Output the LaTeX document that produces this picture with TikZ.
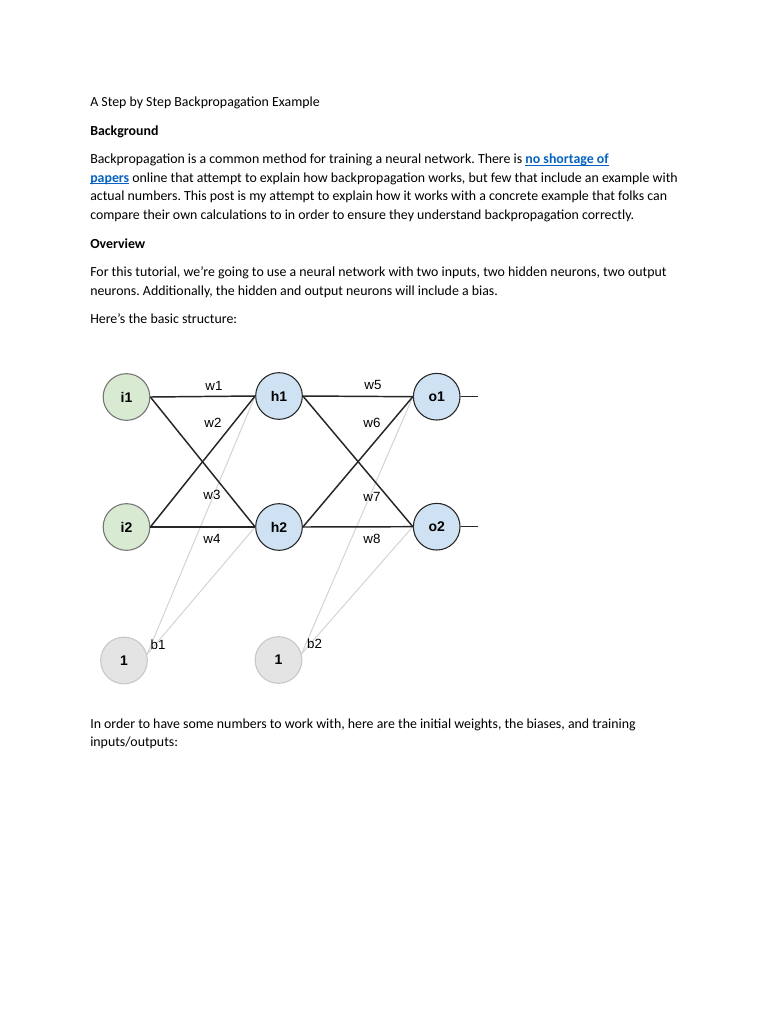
\documentclass[tikz,border=0pt]{standalone}
\usepackage{fontspec}
\setmainfont{Carlito}
\newfontfamily\diagfont{Liberation Sans}
\definecolor{linkblue}{RGB}{5,99,193}
\definecolor{ingreen}{HTML}{D9EAD3}
\definecolor{hidblue}{HTML}{CFE2F3}
\definecolor{biasgray}{HTML}{E4E4E4}

\tikzset{
  txt/.style={anchor=base west, inner sep=0pt},
  neuron/.style={circle, minimum size=35pt, inner sep=0pt, line width=0.8pt,
    font=\diagfont\bfseries\fontsize{10.5}{12}\selectfont},
  inneuron/.style={neuron, fill=ingreen, draw=black!55},
  hidneuron/.style={neuron, fill=hidblue, draw=black!85},
  biasneuron/.style={neuron, fill=biasgray, draw=black!22},
  wire/.style={line width=1.1pt, black!85},
  biaswire/.style={line width=0.75pt, black!17},
  wlabel/.style={font=\diagfont\fontsize{10}{12}\selectfont, inner sep=0pt},
}
% hyperlink look: bold blue, rule just under the baseline
\newsavebox{\linkbox}
\newcommand{\linktext}[1]{\sbox{\linkbox}{\color{linkblue}\bfseries #1}%
  {\color{linkblue}\rlap{\rule[-1.6pt]{\wd\linkbox}{0.6pt}}}\usebox{\linkbox}}

\begin{document}
\frenchspacing
\begin{tikzpicture}[x=0.75pt, y=-0.75pt, font=\fontsize{10.4}{13}\selectfont]
\fill[white] (0,0) rectangle (768,1024);
\useasboundingbox (0,0) rectangle (768,1024);
% page text, one node per printed line
\def\L{90}
\node[txt] (title) at (\L,106.5) {A Step by Step Backpropagation Example};
\node[txt] (bghead) at (\L,135) {\bfseries Background};
\node[txt] (bg1) at (\L,163.5) {Backpropagation is a common method for training a neural network. There is \linktext{no shortage of}};
\node[txt] (bg2) at (\L,182) {\linktext{papers} online that attempt to explain how backpropagation works, but few that include an example with};
\node[txt] (bg3) at (\L,200.5) {actual numbers. This post is my attempt to explain how it works with a concrete example that folks can};
\node[txt] (bg4) at (\L,219.5) {compare their own calculations to in order to ensure they understand backpropagation correctly.};
\node[txt] (ovhead) at (\L,248) {\bfseries Overview};
\node[txt] (ov1) at (\L,276.7) {For this tutorial, we’re going to use a neural network with two inputs, two hidden neurons, two output};
\node[txt] (ov2) at (\L,295.3) {neurons. Additionally, the hidden and output neurons will include a bias.};
\node[txt] (ov3) at (\L,323.5) {Here’s the basic structure:};
\node[txt] (end1) at (\L,728) {In order to have some numbers to work with, here are the initial weights, the biases, and training};
\node[txt] (end2) at (\L,746.7) {inputs/outputs:};

% network: inputs, hidden, outputs, biases
\node[inneuron] (i1) at (126.5,397) {i1};
\node[inneuron] (i2) at (126.5,527) {i2};
\node[hidneuron] (h1) at (279,396) {h1};
\node[hidneuron] (h2) at (279,527) {h2};
\node[hidneuron] (o1) at (436.7,396.7) {o1};
\node[hidneuron] (o2) at (436.7,526.7) {o2};
\node[biasneuron] (b1) at (124,660.5) {1};
\node[biasneuron] (b2) at (278.5,660) {1};
\coordinate (out1) at (478.3,396.7);
\coordinate (out2) at (478.3,526.7);

% bias links sit under the weights
\foreach \b/\t in {b1/h1, b1/h2, b2/o1, b2/o2}
  \draw[biaswire] (\b.15) -- (\t.west);
\foreach \a in {i1,i2} \foreach \t in {h1,h2}
  \draw[wire] (\a.east) -- (\t.west);
\foreach \a in {h1,h2} \foreach \t in {o1,o2}
  \draw[wire] (\a.east) -- (\t.west);
\draw[wire] (o1.east) -- (out1);
\draw[wire] (o2.east) -- (out2);

% weight and bias labels
\node[wlabel] (lw1) at (214,385.5) {w1};
\node[wlabel] (lw2) at (213,423.3) {w2};
\node[wlabel] (lw3) at (212,495) {w3};
\node[wlabel] (lw4) at (212,538.5) {w4};
\node[wlabel] (lw5) at (373,385) {w5};
\node[wlabel] (lw6) at (372,423.3) {w6};
\node[wlabel] (lw7) at (372,496.7) {w7};
\node[wlabel] (lw8) at (372,538.5) {w8};
\node[wlabel] (lb1) at (158,644.5) {b1};
\node[wlabel] (lb2) at (314.5,644) {b2};
\end{tikzpicture}
\end{document}
